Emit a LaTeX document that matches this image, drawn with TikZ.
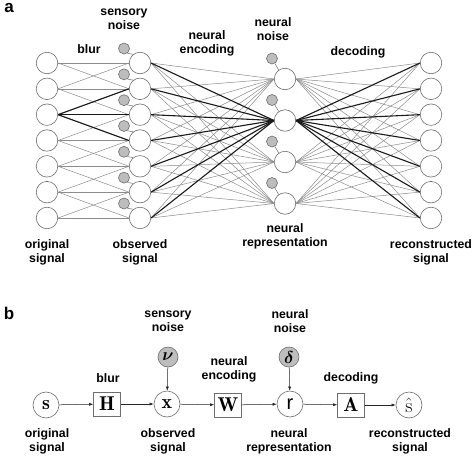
\documentclass[tikz,border=0pt]{standalone}
\usepackage{fontspec}
\usepackage{bm}
\newfontfamily\labfont{Liberation Sans}
\usetikzlibrary{arrows.meta}
\definecolor{circ}{HTML}{6E6E6E}
\definecolor{linegray}{HTML}{8C8C8C}
\definecolor{noisefill}{HTML}{BDBDBD}
\begin{document}
\begin{tikzpicture}[x=1pt,y=-1pt,
  unit/.style={circle, draw=circ, line width=0.6pt, fill=white, minimum size=21.5pt, inner sep=0pt},
  nz/.style={circle, draw=circ, line width=0.6pt, fill=noisefill, minimum size=11pt, inner sep=0pt},
  lab/.style={font=\labfont\bfseries\fontsize{12.3}{13.8}\selectfont, align=center, inner sep=0pt},
  panel/.style={font=\labfont\bfseries\fontsize{17}{17}\selectfont, inner sep=0pt},
  conn/.style={draw=linegray, line width=0.5pt},
  strong/.style={draw=black!90, line width=1.1pt},
  bunit/.style={circle, draw=circ, line width=0.6pt, fill=white, minimum size=26pt, inner sep=0pt, font=\fontsize{20}{20}\selectfont},
  bbox/.style={rectangle, draw=circ, line width=0.6pt, fill=white, minimum width=27pt, minimum height=24pt, inner sep=0pt, font=\fontsize{20}{20}\selectfont},
  bnz/.style={circle, draw=circ, line width=0.6pt, fill=noisefill, minimum size=20pt, inner sep=0pt, font=\fontsize{18}{18}\selectfont},
  arr/.style={draw=black!85, line width=0.5pt, -{Latex[length=4pt,width=3pt]}}
]
\useasboundingbox (0,0) rectangle (474,458);
\fill[white] (0,0) rectangle (474,458);

% ---------- panel a ----------
\node[panel] (pa) at (9,8) {a};
\foreach \i in {1,...,7} {
  \pgfmathsetmacro{\yy}{63+25.83*(\i-1)}
  \node[unit] (L\i) at (47,\yy) {};
  \node[unit] (O\i) at (140,\yy) {};
  \node[unit] (R\i) at (431,\yy) {};
  \node[nz] (N\i) at (124,\yy-14.5) {};
  \draw[circ, line width=0.5pt] (N\i.-55) -- (O\i.128);
}
\foreach \j in {1,...,4} {
  \pgfmathsetmacro{\yy}{79+41.5*(\j-1)}
  \node[unit] (H\j) at (285,\yy) {};
  \node[nz] (M\j) at (272,\yy-20.5) {};
  \draw[circ, line width=0.5pt] (M\j.-60) -- (H\j.125);
}
% blur connections
\foreach \i in {1,...,7} {
  \foreach \k in {-1,0,1} {
    \pgfmathtruncatemacro{\t}{\i+\k}
    \ifnum\t>0 \ifnum\t<8
      \draw[conn] (L\i.east) -- (O\t.west);
    \fi\fi
  }
}
% encoding & decoding
\foreach \i in {1,...,7} {
  \foreach \j in {1,3,4} {
    \draw[conn] (O\i.east) -- (H\j.west);
    \draw[conn] (H\j.east) -- (R\i.west);
  }
}
\foreach \i in {1,...,7} {
  \draw[strong] (O\i.east) -- (H2.west);
  \draw[strong] (H2.east) -- (R\i.west);
}
\draw[strong] (L3.east) -- (O2.west);
\draw[strong] (L3.east) -- (O3.west);
\draw[strong] (L3.east) -- (O4.west);

\node[lab] (t1) at (124,19) {sensory\\noise};
\node[lab] (t2) at (89,49) {blur};
\node[lab] (t3) at (207,43) {neural\\encoding};
\node[lab] (t4) at (273,29.5) {neural\\noise};
\node[lab] (t5) at (358,52) {decoding};
\node[lab] (t6) at (47,252) {original\\signal};
\node[lab] (t7) at (140,252) {observed\\signal};
\node[lab] (t8) at (285,236.5) {neural\\representation};
\node[lab] (t9) at (431,252) {reconstructed\\signal};

% ---------- panel b ----------
\node[panel] (pb) at (9,313) {b};
\node[bunit] (s) at (46,405) {$\mathbf{s}$};
\node[bbox] (Hb) at (107,404) {$\mathbf{H}$};
\node[bunit] (x) at (167,404) {$\mathbf{x}$};
\node[bbox] (W) at (228,405) {$\mathbf{W}$};
\node[bunit] (r) at (290,404) {\labfont r};
\node[bbox] (A) at (351,405) {$\mathbf{A}$};
\node[bunit] (sh) at (409,405) {$\hat{\mathrm{s}}$};
\node[bnz] (nu) at (168,357) {$\bm{\nu}$};
\node[bnz] (de) at (289,357) {$\bm{\delta}$};

\draw[arr] (s) -- (Hb);
\draw[arr] (Hb) -- (x);
\draw[arr] (x) -- (W);
\draw[arr] (W) -- (r);
\draw[arr] (r) -- (A);
\draw[arr] (A) -- (sh);
\draw[arr] (nu) -- (x);
\draw[arr] (de) -- (r);

\node[lab] (u1) at (168,321) {sensory\\noise};
\node[lab] (u2) at (108,378) {blur};
\node[lab] (u3) at (229,369.5) {neural\\encoding};
\node[lab] (u4) at (290,321) {neural\\noise};
\node[lab] (u5) at (351,378) {decoding};
\node[lab] (u6) at (47,441) {original\\signal};
\node[lab] (u7) at (168,441) {observed\\signal};
\node[lab] (u8) at (289,441) {neural\\representation};
\node[lab] (u9) at (410,441) {reconstructed\\signal};
\end{tikzpicture}
\end{document}
